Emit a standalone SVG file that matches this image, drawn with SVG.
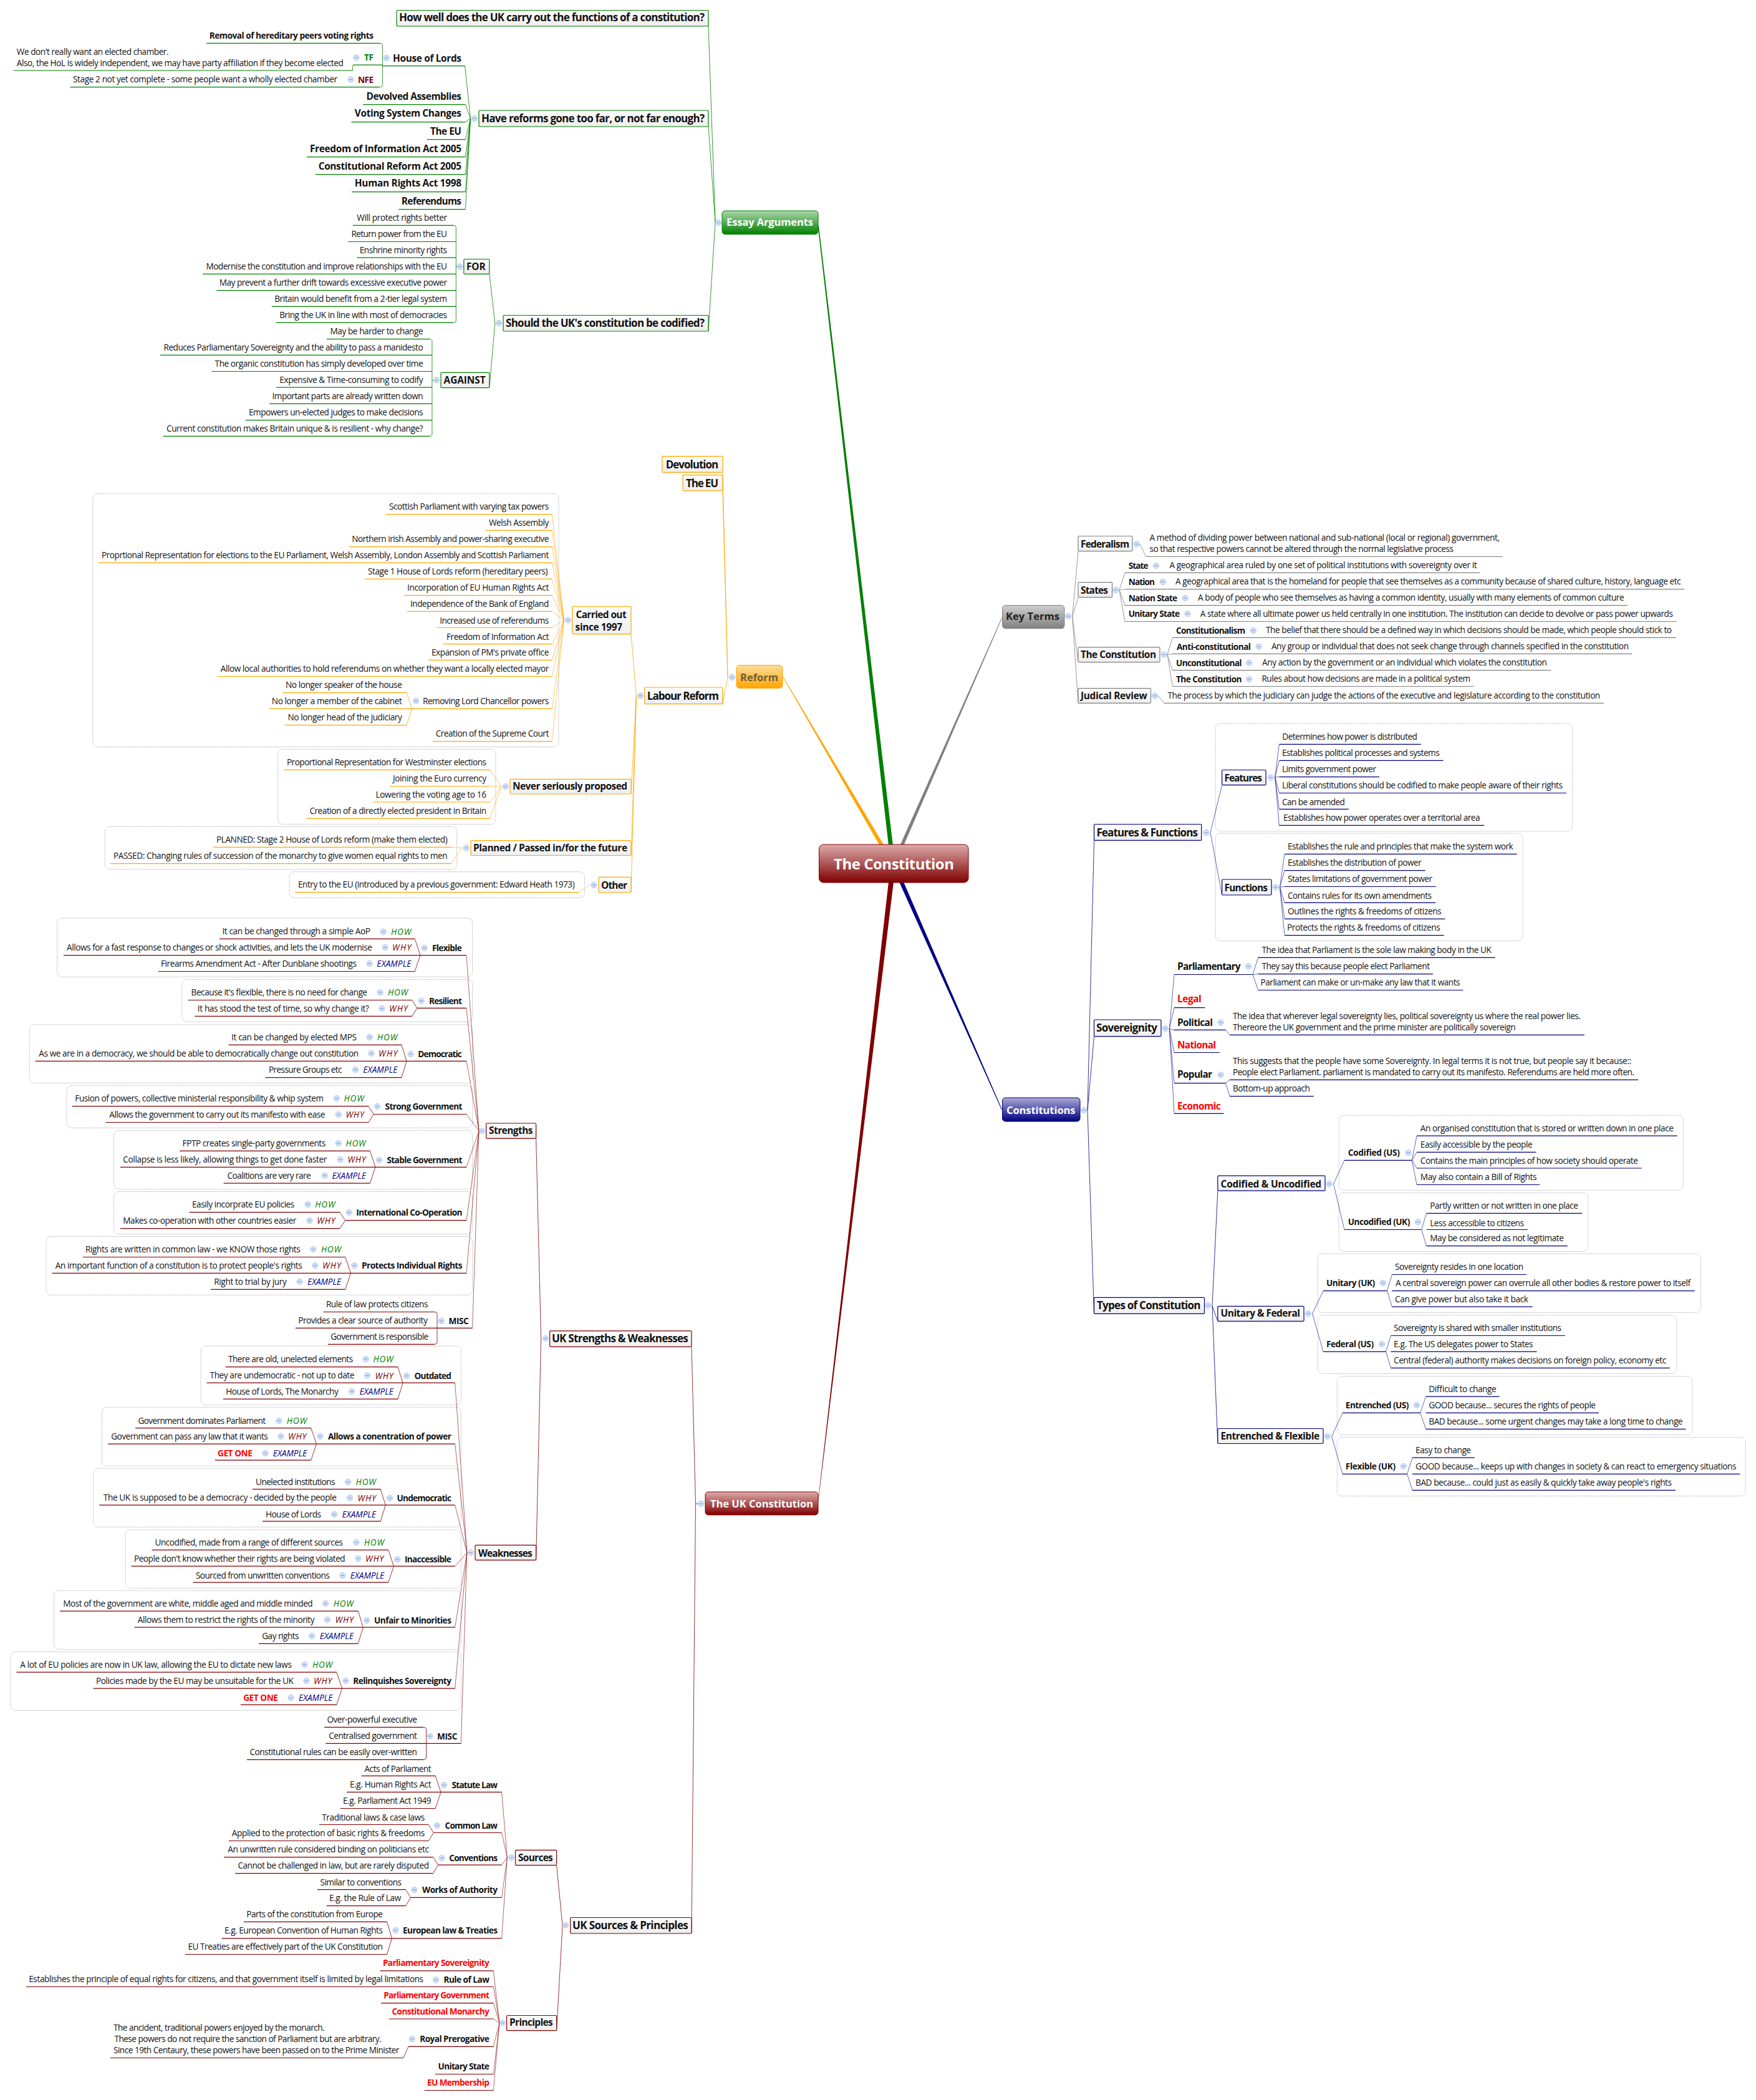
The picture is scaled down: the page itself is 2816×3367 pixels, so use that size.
<svg xmlns="http://www.w3.org/2000/svg" width="2816" height="3367" viewBox="0 0 2816 3367">
<style>
text{font-family:"Open Sans","Noto Sans","Liberation Sans",sans-serif;fill:#111}
.l{font-size:13.6px}
.b{font-size:13.6px;font-weight:700}
.m{font-size:15.4px;font-weight:700}
.h{font-size:17px;font-weight:700}
.t{font-size:16.5px;font-weight:700;fill:#fff}
.red{fill:#f00}
.how{font-size:13.6px;font-style:italic;fill:#008000}
.why{font-size:13.6px;font-style:italic;fill:#800000}
.ex{font-size:13.6px;font-style:italic;fill:#000080}
path{fill:none;stroke-width:1.2}
#connectors path{stroke-width:.8}
.g{stroke:#008000}.o{stroke:#ffa500}.r{stroke:#800000}.u{stroke:#000080}.k{stroke:#808080}
#connectors .th{stroke-width:.6}
rect.bx{fill:url(#bx);stroke-width:1.2;rx:1.5px}
rect.grp{fill:#fff;stroke:#aaa;stroke-width:1;stroke-dasharray:1 1;rx:8px}
.poly{stroke:none}
</style>
<defs>
<linearGradient id="bx" x1="0" y1="0" x2="0" y2="1"><stop offset="0" stop-color="#fdfdfd"/><stop offset="1" stop-color="#eeeeee"/></linearGradient>
<linearGradient id="gc" x1="0" y1="0" x2="0" y2="1"><stop offset="0" stop-color="#dcabab"/><stop offset="1" stop-color="#800000"/></linearGradient>
<linearGradient id="gg" x1="0" y1="0" x2="0" y2="1"><stop offset="0" stop-color="#abd6ab"/><stop offset="1" stop-color="#008000"/></linearGradient>
<linearGradient id="go" x1="0" y1="0" x2="0" y2="1"><stop offset="0" stop-color="#ffdc9a"/><stop offset="1" stop-color="#ffa500"/></linearGradient>
<linearGradient id="gk" x1="0" y1="0" x2="0" y2="1"><stop offset="0" stop-color="#cfcfcf"/><stop offset="1" stop-color="#808080"/></linearGradient>
<linearGradient id="gu" x1="0" y1="0" x2="0" y2="1"><stop offset="0" stop-color="#ababd6"/><stop offset="1" stop-color="#000080"/></linearGradient>
<g id="c"><circle r="4.5" fill="#d4e2fa" stroke="#a9c2ee" stroke-width="1"/><path d="M-2.5 0H2.5" stroke="#7f9bd0" stroke-width="1"/></g>
</defs>
<g id="boundaries">
<rect class="grp" x="148.9" y="791.3" width="747.1" height="406.2"/>
<rect class="grp" x="445.8" y="1201.3" width="349.1" height="120.2"/>
<rect class="grp" x="168" y="1325.4" width="564.7" height="68.4"/>
<rect class="grp" x="464" y="1397.7" width="473.5" height="41.6"/>
<rect class="grp" x="91.7" y="1472" width="665.9" height="94.4"/>
<rect class="grp" x="291.9" y="1570.4" width="465.7" height="67.9"/>
<rect class="grp" x="47" y="1642.8" width="710.6" height="93.7"/>
<rect class="grp" x="107" y="1740.5" width="650.6" height="67.9"/>
<rect class="grp" x="182.6" y="1812.4" width="575" height="94.2"/>
<rect class="grp" x="182.6" y="1910.6" width="575" height="67.9"/>
<rect class="grp" x="74" y="1982.5" width="683.6" height="93.8"/>
<rect class="grp" x="322" y="2158" width="417.3" height="94.3"/>
<rect class="grp" x="163.5" y="2256.2" width="575.8" height="94.1"/>
<rect class="grp" x="149.6" y="2354.3" width="589.7" height="94"/>
<rect class="grp" x="201" y="2452.7" width="538.3" height="93.7"/>
<rect class="grp" x="86.5" y="2550.3" width="652.8" height="94.1"/>
<rect class="grp" x="16.9" y="2648.3" width="722.4" height="94.1"/>
<rect class="grp" x="1949" y="1160" width="572.5" height="172.7"/>
<rect class="grp" x="1949" y="1336" width="493" height="172.6"/>
<rect class="grp" x="2147" y="1788.4" width="552.4" height="120"/>
<rect class="grp" x="2147" y="1912.6" width="399.6" height="93.8"/>
<rect class="grp" x="2113.3" y="2010.2" width="614.2" height="94.3"/>
<rect class="grp" x="2113.3" y="2108.7" width="575.5" height="93.8"/>
<rect class="grp" x="2144.3" y="2206.8" width="569.6" height="93.8"/>
<rect class="grp" x="2144.3" y="2304.4" width="654.7" height="94.3"/>
</g>
<g id="connectors">
<polygon class="poly" fill="#008000" points="1311.5,362 1313,362 1432,1356 1425,1356"/>
<polygon class="poly" fill="#ffa500" points="1255,1085 1256,1085 1418,1356 1411,1356"/>
<polygon class="poly" fill="#808080" points="1606.5,990 1607.5,990 1449,1356 1443,1356"/>
<polygon class="poly" fill="#000080" points="1607,1779 1606,1779 1442,1414 1449,1414"/>
<polygon class="poly" fill="#800000" points="1312,2405 1312.5,2405 1433,1414 1425,1414"/>
<path class="g" d="M1147 356L1136 42M1147 356L1136 203M1147 356L1136 531M1147 356H1154"/>
<path class="g" d="M754.5 190L745.5 105.6M754.5 190L746.4 167.6M754.5 190L746.4 195.6M754.5 190L746.4 223.6M754.5 190L746.4 251.6M754.5 190L746.4 279.6M754.5 190L746.4 307.6M754.5 190L746.4 335.6"/>
<path class="g" d="M609 69.3q4 0 4.4 3V136.6q0 3-4 3M566 104.2L565 113"/>
<path class="g" d="M793.8 518.4L784.8 439.4M793.8 518.4L784.8 621.7"/>
<path class="g" d="M727 361.3q4 0 4.3 3V514.4q0 3-4 3M731.3 427H737"/>
<path class="g" d="M689 543.6q4 0 3.9 3V696.3q0 3-4 3M692.9 609.7H698"/>
<path class="o" d="M1167 1086L1158.9 757.3M1167 1086L1158.9 786.9M1167 1086L1158.9 1128.6"/>
<path class="o" d="M1020.4 1115.5L1012 1016.6M1020.4 1115.5L1012 1273M1020.4 1115.5L1012 1371.5M1020.4 1115.5L1012 1431"/>
<path class="o th" d="M904.3 994.4L885.3 824.7M904.3 994.4L885.3 850.4M904.3 994.4L885.3 876.6M904.3 994.4L885.3 902.3M904.3 994.4L885.3 928.4M904.3 994.4L885.3 954.6M904.3 994.4L885.3 980.3M904.3 994.4L885.3 1006.5M904.3 994.4L885.3 1032.6M904.3 994.4L885.3 1058.3M904.3 994.4L885.3 1084.5M904.3 994.4L885.3 1136.4M904.3 994.4L885.3 1188.7"/>
<path class="o" d="M660.5 1136.4L652.2 1110.7M660.5 1136.4L652.2 1162.6"/>
<path class="o th" d="M804 1261L785.7 1234.3M804 1261L785.7 1260.5M804 1261L785.7 1286M804 1261L785.7 1312.3"/>
<path class="o th" d="M741 1359.4L723.6 1358.4M741 1359.4L723.6 1384.6"/>
<path class="o th" d="M945.8 1418.5L928.4 1430.6"/>
<path class="r" d="M1115.5 2411L1109 2159.3M1115.5 2411L1109 3100M1115.5 2411H1120"/>
<path class="r" d="M867.6 2146L859.6 1825.4M867.6 2146L859.6 2501.3"/>
<path class="r" d="M902 3086.8L892.6 2990.6M902 3086.8L892.6 3255.7"/>
<path class="r th" d="M768 1813.3L748 1531.6M768 1813.3L748 1616.4M768 1813.3L748 1701.3M768 1813.3L748 1786.5M768 1813.3L748 1871.3M768 1813.3L748 1956.6M768 1813.3L748 2041.4M768 1813.3L757.6 2129.4"/>
<path class="r" d="M674 1531.6L665.2 1505.3M674 1531.6L665.2 1557.5"/>
<path class="r" d="M668.9 1616.4L660.8 1603.5M668.9 1616.4L660.8 1629.4"/>
<path class="r" d="M652 1701.3L644 1675.4M652 1701.3L644 1727.6"/>
<path class="r" d="M599 1786.5L591 1773.6M599 1786.5L591 1799.5"/>
<path class="r" d="M602 1871.3L593.3 1845.4M602 1871.3L593.3 1897.2"/>
<path class="r" d="M553.7 1956.6L545 1943.7M553.7 1956.6L545 1969.6"/>
<path class="r" d="M562.5 2041.4L553.7 2015.5M562.5 2041.4L553.7 2067.3"/>
<path class="r" d="M697 2103.5q4 0 4 3V2152q0 3-4 3.3"/>
<path class="r th" d="M748.8 2489.5L729.7 2217.2M748.8 2489.5L729.7 2315.2M748.8 2489.5L729.7 2413.2M748.8 2489.5L729.7 2511.2M748.8 2489.5L729.7 2609.2M748.8 2489.5L729.7 2707.2M748.8 2489.5L739.3 2795.3"/>
<path class="r" d="M646 2217.2L638 2191.6M646 2217.2L638 2243.2"/>
<path class="r" d="M507.5 2315.2L498.7 2289.6M507.5 2315.2L498.7 2341.2"/>
<path class="r" d="M618.3 2413.2L610.2 2387.6M618.3 2413.2L610.2 2439.2"/>
<path class="r" d="M631.5 2511.2L622.7 2485.2M631.5 2511.2L622.7 2537.2"/>
<path class="r" d="M582.3 2609.2L574.3 2583.2M582.3 2609.2L574.3 2635.3"/>
<path class="r" d="M548.6 2707.2L539.8 2681.2M548.6 2707.2L539.8 2733.3"/>
<path class="r" d="M679.5 2769.3q4 0 4 3V2818q0 3-4 3.3"/>
<path class="r th" d="M813.3 2978.3L804.6 2873.4M813.3 2978.3L804.6 2938.5M813.3 2978.3L804.6 2990.2M813.3 2978.3L804.6 3042.3M813.3 2978.3L804.6 3107.8"/>
<path class="r" d="M707 2873.4L698.2 2847.4M707 2873.4L698.2 2899.5"/>
<path class="r" d="M695.3 2938.5L687.2 2925.5M695.3 2938.5L687.2 2951.5"/>
<path class="r" d="M702.6 2990.2L694.5 2977.6M702.6 2990.2L694.5 3003.6"/>
<path class="r" d="M658.6 3042.3L650.5 3029.7M658.6 3042.3L650.5 3055.7"/>
<path class="r" d="M628.5 3107.8L620.5 3081.4M628.5 3107.8L620.5 3133.5"/>
<path class="r th" d="M800.9 3243.4L791.3 3159.9M800.9 3243.4L791.3 3185.5M800.9 3243.4L791.3 3211.6M800.9 3243.4L791.3 3237M800.9 3243.4L791.3 3281.4M800.9 3243.4L791.3 3325.5M800.9 3243.4L791.3 3351.5"/>
<path class="r" d="M655 3281.4L646.9 3299.5"/>
<path class="k" d="M1719.7 988.5L1729 883.6M1719.7 988.5L1729 957.7M1719.7 988.5L1729 1061.7M1719.7 988.5L1729 1127.3"/>
<path class="k" d="M1828 872.4L1837.7 892.5"/>
<path class="k" d="M1795 946L1803.9 918.4M1795 946L1803.9 944.7M1795 946L1803.9 970.6M1795 946L1803.9 996.5"/>
<path class="k" d="M1872 1049.6L1880.3 1022.4M1872 1049.6L1880.3 1048.3M1872 1049.6L1880.3 1074.6M1872 1049.6L1880.3 1100.5"/>
<path class="k" d="M1857 1115.7L1866.7 1127.3"/>
<path class="u" d="M1744 1780L1754.5 1347.4M1744 1780L1754.5 1661.6M1744 1780L1754.5 2106.3"/>
<path class="u th" d="M1941 1335L1959.6 1258.6M1941 1335L1959.6 1435"/>
<path class="u th" d="M2044.7 1246L2051.4 1193.4M2044.7 1246L2051.4 1219.3M2044.7 1246L2051.4 1245.6M2044.7 1246L2051.4 1271.5M2044.7 1246L2051.4 1297.4M2044.7 1246L2051.4 1323.3"/>
<path class="u th" d="M2052.4 1422.4L2060 1369.3M2052.4 1422.4L2060 1395.6M2052.4 1422.4L2060 1421.5M2052.4 1422.4L2060 1447.4M2052.4 1422.4L2060 1473.3M2052.4 1422.4L2060 1499.6"/>
<path class="u th" d="M1875.4 1649.6L1883 1562.5M1875.4 1649.6L1883 1615.6M1875.4 1649.6L1883 1651.3M1875.4 1649.6L1883 1687.5M1875.4 1649.6L1883 1736.6M1875.4 1649.6L1883 1785.3"/>
<path class="u th" d="M2009 1562.5L2017.6 1535.3M2009 1562.5L2017.6 1561.6M2009 1562.5L2017.6 1587.5"/>
<path class="u th" d="M1965.4 1651.3L1972 1659.4"/>
<path class="u th" d="M1965.4 1736.6L1972 1731.3M1965.4 1736.6L1972 1757.6"/>
<path class="u" d="M1944 2093.7L1952.8 1909.2M1944 2093.7L1952.8 2118.4M1944 2093.7L1952.8 2314.5"/>
<path class="u th" d="M2138.5 1898.3L2155.9 1860.4M2138.5 1898.3L2155.9 1971.5"/>
<path class="u th" d="M2264.2 1860.4L2272 1821.2M2264.2 1860.4L2272 1847.3M2264.2 1860.4L2272 1873M2264.2 1860.4L2272 1899.5"/>
<path class="u th" d="M2279.7 1971.5L2287.4 1945.4M2279.7 1971.5L2287.4 1997.6"/>
<path class="u th" d="M2104.6 2106.2L2122 2069.6M2104.6 2106.2L2122 2167.2"/>
<path class="u th" d="M2224.5 2069.6L2232.3 2043.5M2224.5 2069.6L2232.3 2095.2"/>
<path class="u th" d="M2222.6 2167.2L2230.4 2141.5M2222.6 2167.2L2230.4 2193.3"/>
<path class="u th" d="M2135.6 2303L2153 2265.3M2135.6 2303L2153 2363.3"/>
<path class="u th" d="M2277.7 2265.3L2286.5 2239.2M2277.7 2265.3L2286.5 2291.4"/>
<path class="u th" d="M2256.5 2363.3L2265 2337.2M2256.5 2363.3L2265 2389.4"/>
</g>
<g id="central"><rect x="1313.5" y="1354" width="239.5" height="61" rx="7" fill="url(#gc)" stroke="#800000"/><text x="1337" y="1394" font-size="24" font-weight="700" style="fill:#fff" textLength="193">The Constitution</text></g>
<g id="essay"><rect x="1158" y="338" width="154" height="37.7" rx="5" fill="url(#gg)" stroke="#008000"/><text class="t" x="1165" y="362" textLength="139">Essay Arguments</text><use href="#c" x="1152" y="357"/></g>
<g id="reform"><rect x="1181" y="1066.6" width="74" height="36.8" rx="5" fill="url(#go)" stroke="#ffa500"/><text class="t" x="1187" y="1092" textLength="61" style="fill:#6b5a3a">Reform</text><use href="#c" x="1174" y="1086"/></g>
<g id="keyterms"><rect x="1607.5" y="970.6" width="99.5" height="37.1" rx="5" fill="url(#gk)" stroke="#808080"/><text class="t" x="1613" y="993.5" textLength="86" style="fill:#222">Key Terms</text><use href="#c" x="1713" y="988"/></g>
<g id="constitutions"><rect x="1607.5" y="1760" width="124.5" height="38" rx="5" fill="url(#gu)" stroke="#000080"/><text class="t" x="1614" y="1786" textLength="110.5">Constitutions</text><use href="#c" x="1738" y="1780"/></g>
<g id="ukconstitution"><rect x="1131" y="2392" width="181" height="37" rx="5" fill="url(#gc)" stroke="#800000"/><text class="t" x="1139" y="2417" textLength="165">The UK Constitution</text><use href="#c" x="1124" y="2411"/></g>

<g id="n1"><rect class="bx g" x="636" y="16.5" width="500" height="25.5"/><text class="h" x="640" y="34" textLength="490">How well does the UK carry out the functions of a constitution?</text></g>
<g id="n2"><rect class="bx g" x="768" y="177" width="368" height="26"/><text class="h" x="772" y="195.5" textLength="358">Have reforms gone too far, or not far enough?</text><use href="#c" x="761" y="190"/></g>
<g id="n3"><rect class="bx g" x="807" y="505.5" width="329" height="25.5"/><text class="h" x="811" y="524" textLength="319">Should the UK's constitution be codified?</text><use href="#c" x="800" y="518"/></g>
<g id="n4"><path class="g" d="M331 69.3H609"/><text class="b" x="335.7" y="62" textLength="263.3">Removal of hereditary peers voting rights</text></g>
<g id="n5"><path class="g" d="M566 104.2H613.4"/><text class="b" x="584" y="97" textLength="15" style="fill:#008000">TF</text><use href="#c" x="571.4" y="92.3"/></g>
<g id="n6"><path class="g" d="M21.4 113H566"/><text class="l" x="26.8" y="87.6" textLength="243.7">We don't really want an elected chamber.</text><text class="l" x="26.8" y="106" textLength="524">Also, the HoL is widely independent, we may have party affiliation if they become elected</text></g>
<g id="n7"><text class="b" x="574" y="132.6" textLength="25" style="fill:#800000">NFE</text><use href="#c" x="562.5" y="127.6"/></g>
<g id="n8"><path class="g" d="M112.5 139.6H609"/><text class="l" x="117" y="131.7" textLength="424">Stage 2 not yet complete - some people want a wholly elected chamber</text></g>
<g id="n9"><path class="g" d="M613.4 105.6H745.5"/><text class="m" x="630" y="98.5" textLength="110">House of Lords</text><use href="#c" x="619.6" y="93"/></g>
<g id="n10"><path class="g" d="M582 167.6H746.4"/><text class="m" x="587.5" y="160.3" textLength="152.5">Devolved Assemblies</text></g>
<g id="n11"><path class="g" d="M563.4 195.6H746.4"/><text class="m" x="568.8" y="187" textLength="171.2">Voting System Changes</text></g>
<g id="n12"><path class="g" d="M684.8 223.6H746.4"/><text class="m" x="690" y="216.3" textLength="50">The EU</text></g>
<g id="n13"><path class="g" d="M492 251.6H746.4"/><text class="m" x="497" y="244.3" textLength="243">Freedom of Information Act 2005</text></g>
<g id="n14"><path class="g" d="M506 279.6H746.4"/><text class="m" x="510.7" y="272.3" textLength="229.3">Constitutional Reform Act 2005</text></g>
<g id="n15"><path class="g" d="M564 307.6H746.4"/><text class="m" x="568.8" y="298.7" textLength="171.2">Human Rights Act 1998</text></g>
<g id="n16"><path class="g" d="M639 335.6H746.4"/><text class="m" x="643.8" y="328.3" textLength="96.2">Referendums</text></g>
<g id="n17"><rect class="bx g" x="743.8" y="415.5" width="41" height="23.9"/><text class="m" x="748" y="433" textLength="30.6">FOR</text><use href="#c" x="737.5" y="427.5"/></g>
<g id="n18"><path class="g" d="M566 361.3H727"/><text class="l" x="572.3" y="354" textLength="144.7">Will protect rights better</text></g>
<g id="n19"><path class="g" d="M558 387.5H731.3"/><text class="l" x="563.4" y="379.7" textLength="153.6">Return power from the EU</text></g>
<g id="n20"><path class="g" d="M572.3 413.2H731.3"/><text class="l" x="576.8" y="405.8" textLength="140.2">Enshrine minority rights</text></g>
<g id="n21"><path class="g" d="M325 439.4H731.3"/><text class="l" x="330.4" y="432" textLength="386.6">Modernise the constitution and improve relationships with the EU</text></g>
<g id="n22"><path class="g" d="M347.3 465.6H731.3"/><text class="l" x="351.8" y="457.7" textLength="365.2">May prevent a further drift towards excessive executive power</text></g>
<g id="n23"><path class="g" d="M435.7 491.3H731.3"/><text class="l" x="440.2" y="483.9" textLength="276.8">Britain would benefit from a 2-tier legal system</text></g>
<g id="n24"><path class="g" d="M442.9 517.4H727"/><text class="l" x="448.2" y="509.6" textLength="268.8">Bring the UK in line with most of democracies</text></g>
<g id="n25"><rect class="bx g" x="707" y="597.3" width="77.8" height="24.4"/><text class="m" x="711.6" y="615" textLength="67">AGAINST</text><use href="#c" x="700" y="609.5"/></g>
<g id="n26"><path class="g" d="M524 543.6H689"/><text class="l" x="529.5" y="535.8" textLength="149.1">May be harder to change</text></g>
<g id="n27"><path class="g" d="M257 569.3H692.9"/><text class="l" x="262.5" y="562" textLength="416.1">Reduces Parliamentary Sovereignty and the ability to pass a manidesto</text></g>
<g id="n28"><path class="g" d="M339.3 595.5H692.9"/><text class="l" x="344.6" y="587.6" textLength="334">The organic constitution has simply developed over time</text></g>
<g id="n29"><path class="g" d="M442.9 621.2H692.9"/><text class="l" x="448.2" y="613.8" textLength="230.4">Expensive &amp; Time-consuming to codify</text></g>
<g id="n30"><path class="g" d="M432 647.4H692.9"/><text class="l" x="436.6" y="640" textLength="242">Important parts are already written down</text></g>
<g id="n31"><path class="g" d="M393.8 673.6H692.9"/><text class="l" x="399" y="665.7" textLength="279.6">Empowers un-elected judges to make decisions</text></g>
<g id="n32"><path class="g" d="M261.6 699.3H689"/><text class="l" x="267" y="691.9" textLength="411.6">Current constitution makes Britain unique &amp; is resilient - why change?</text></g>

<g id="n33"><rect class="bx o" x="1061.9" y="731.6" width="97" height="25.7"/><text class="h" x="1067.7" y="750.7" textLength="84.5">Devolution</text></g>
<g id="n34"><rect class="bx o" x="1095" y="761.7" width="63.9" height="25.2"/><text class="h" x="1100" y="780.8" textLength="52">The EU</text></g>
<g id="n35"><rect class="bx o" x="1033.7" y="1102" width="125.2" height="26.6"/><text class="h" x="1037.8" y="1122" textLength="115.2">Labour Reform</text><use href="#c" x="1027" y="1115.5"/></g>
<g id="n36"><rect class="bx o" x="917.6" y="972.5" width="94.4" height="44.1"/><text class="m" x="923.4" y="990.5" textLength="81.2">Carried out</text><text class="m" x="922.6" y="1010.5" textLength="75.4">since 1997</text><use href="#c" x="911" y="994.4"/></g>
<g id="n37"><path class="o" d="M619 824.7H885.3"/><text class="l" x="624" y="817" textLength="256.3">Scottish Parliament with varying tax powers</text></g>
<g id="n38"><path class="o" d="M778.3 850.4H885.3"/><text class="l" x="784" y="842.8" textLength="96.3">Welsh Assembly</text></g>
<g id="n39"><path class="o" d="M559.4 876.6H885.3"/><text class="l" x="564.3" y="869" textLength="316">Northern irish Assembly and power-sharing executive</text></g>
<g id="n40"><path class="o" d="M158 902.3H885.3"/><text class="l" x="163" y="894.7" textLength="717.3">Proprtional Representation for elections to the EU Parliament, Welsh Assembly, London Assembly and Scottish Parliament</text></g>
<g id="n41"><path class="o" d="M585 928.4H885.3"/><text class="l" x="590" y="920.8" textLength="288.6">Stage 1 House of Lords reform (hereditary peers)</text></g>
<g id="n42"><path class="o" d="M648 954.6H885.3"/><text class="l" x="653" y="947" textLength="227.3">Incorporation of EU Human Rights Act</text></g>
<g id="n43"><path class="o" d="M653 980.3H885.3"/><text class="l" x="658" y="972.7" textLength="222.3">Independence of the Bank of England</text></g>
<g id="n44"><path class="o" d="M700.3 1006.5H885.3"/><text class="l" x="705.3" y="1000" textLength="175">Increased use of referendums</text></g>
<g id="n45"><path class="o" d="M711 1032.6H885.3"/><text class="l" x="716" y="1026" textLength="164.3">Freedom of Information Act</text></g>
<g id="n46"><path class="o" d="M687 1058.3H885.3"/><text class="l" x="692" y="1050.7" textLength="188.3">Expansion of PM's private office</text></g>
<g id="n47"><path class="o" d="M348.8 1084.5H885.3"/><text class="l" x="353.7" y="1077" textLength="526.6">Allow local authorities to hold referendums on whether they want a locally elected mayor</text></g>
<g id="n48"><path class="o" d="M660.5 1136.4H885.3"/><text class="l" x="678" y="1128.8" textLength="202.3">Removing Lord Chancellor powers</text><use href="#c" x="667" y="1123.8"/></g>
<g id="n49"><path class="o" d="M453.2 1110.7H652.2"/><text class="l" x="458" y="1103" textLength="186.8">No longer speaker of the house</text></g>
<g id="n50"><path class="o" d="M431.7 1136.4H660.5"/><text class="l" x="435.8" y="1128.8" textLength="209">No longer a member of the cabinet</text></g>
<g id="n51"><path class="o" d="M456.6 1162.6H652.2"/><text class="l" x="461.5" y="1155" textLength="183.3">No longer head of the judiciary</text></g>
<g id="n52"><path class="o" d="M693.7 1188.7H885.3"/><text class="l" x="698.7" y="1181" textLength="181.6">Creation of the Supreme Court</text></g>
<g id="n53"><rect class="bx o" x="818" y="1249.3" width="194" height="23.7"/><text class="m" x="822" y="1266" textLength="184">Never seriously proposed</text><use href="#c" x="810.6" y="1261"/></g>
<g id="n54"><path class="o" d="M454.9 1234.3H785.7"/><text class="l" x="459.9" y="1227" textLength="320.1">Proportional Representation for Westminster elections</text></g>
<g id="n55"><path class="o" d="M624.9 1260.5H785.7"/><text class="l" x="629.9" y="1252.9" textLength="150.1">Joining the Euro currency</text></g>
<g id="n56"><path class="o" d="M598.3 1286H785.7"/><text class="l" x="602.5" y="1279" textLength="177.5">Lowering the voting age to 16</text></g>
<g id="n57"><path class="o" d="M491.4 1312.3H785.7"/><text class="l" x="496.4" y="1304.7" textLength="283.6">Creation of a directly elected president in Britain</text></g>
<g id="n58"><rect class="bx o" x="755" y="1347.7" width="257" height="23.8"/><text class="m" x="759" y="1364.9" textLength="247">Planned / Passed in/for the future</text><use href="#c" x="747.6" y="1359.4"/></g>
<g id="n59"><path class="o" d="M342 1358.4H723.6"/><text class="l" x="347" y="1350.8" textLength="370.7">PLANNED: Stage 2 House of Lords reform (make them elected)</text></g>
<g id="n60"><path class="o" d="M177 1384.6H723.6"/><text class="l" x="182" y="1377" textLength="535.7">PASSED: Changing rules of succession of the monarchy to give women equal rights to men</text></g>
<g id="n61"><rect class="bx o" x="960" y="1406.4" width="52" height="24.6"/><text class="m" x="964" y="1424.5" textLength="42">Other</text><use href="#c" x="952.4" y="1419"/></g>
<g id="n62"><path class="o" d="M473 1430.6H928.4"/><text class="l" x="478" y="1423" textLength="443.7">Entry to the EU (introduced by a previous government: Edward Heath 1973)</text></g>

<g id="n63"><rect class="bx r" x="881.6" y="2133.8" width="227.4" height="25.5"/><text class="h" x="885" y="2152" textLength="218.8">UK Strengths &amp; Weaknesses</text><use href="#c" x="875" y="2146"/></g>
<g id="n64"><rect class="bx r" x="779.6" y="1801" width="80" height="24.4"/><text class="m" x="784" y="1818.4" textLength="70.4">Strengths</text><use href="#c" x="773" y="1813.3"/></g>
<g id="n65"><rect class="bx r" x="762" y="2477.4" width="97.6" height="23.9"/><text class="m" x="767" y="2495.9" textLength="86.7">Weaknesses</text><use href="#c" x="754.7" y="2489.5"/></g>
<g id="n66"><rect class="bx r" x="914.6" y="3074.5" width="194.4" height="25.5"/><text class="h" x="918" y="3092.6" textLength="185.8">UK Sources &amp; Principles</text><use href="#c" x="907" y="3086.8"/></g>

<g id="n67"><path class="r" d="M674 1531.6H748"/><text class="b" x="693" y="1525" textLength="47.8">Flexible</text><use href="#c" x="680.6" y="1520"/></g>
<g id="n68"><path class="r" d="M352 1505.3H665.2"/><text class="l" x="356.4" y="1497.8" textLength="237.6">It can be changed through a simple AoP</text><use href="#c" x="614.6" y="1494"/><text class="how" x="627" y="1499" textLength="32.3">HOW</text></g>
<g id="n69"><path class="r" d="M102 1531.6H674"/><text class="l" x="107" y="1523.7" textLength="490">Allows for a fast response to changes or shock activities, and lets the UK modernise</text><use href="#c" x="617.5" y="1519"/><text class="why" x="629" y="1524" textLength="30.3">WHY</text></g>
<g id="n70"><path class="r" d="M253.8 1557.5H665.2"/><text class="l" x="258" y="1550" textLength="314">Firearms Amendment Act - After Dunblane shootings</text><use href="#c" x="592.6" y="1545"/><text class="ex" x="604.3" y="1550" textLength="55">EXAMPLE</text></g>

<g id="n71"><path class="r" d="M668.9 1616.4H748"/><text class="b" x="688" y="1609.8" textLength="52.8">Resilient</text><use href="#c" x="675.5" y="1604.8"/></g>
<g id="n72"><path class="r" d="M301.4 1603.5H660.8"/><text class="l" x="306.6" y="1596" textLength="282.4">Because it's flexible, there is no need for change</text><use href="#c" x="609.5" y="1591"/><text class="how" x="622" y="1596" textLength="32">HOW</text></g>
<g id="n73"><path class="r" d="M312.4 1629.4H660.8"/><text class="l" x="316.8" y="1621.9" textLength="275.1">It has stood the test of time, so why change it?</text><use href="#c" x="612.4" y="1617"/><text class="why" x="624" y="1622" textLength="30">WHY</text></g>

<g id="n74"><path class="r" d="M652 1701.3H748"/><text class="b" x="670.3" y="1695" textLength="70.5">Democratic</text><use href="#c" x="658.6" y="1690"/></g>
<g id="n75"><path class="r" d="M366.7 1675.4H644"/><text class="l" x="371" y="1667.9" textLength="201">It can be changed by elected MPS</text><use href="#c" x="592.6" y="1663"/><text class="how" x="605" y="1668" textLength="32.3">HOW</text></g>
<g id="n76"><path class="r" d="M56.5 1701.3H652"/><text class="l" x="62.3" y="1693.8" textLength="512.7">As we are in a democracy, we should be able to democratically change out constitution</text><use href="#c" x="595.5" y="1689"/><text class="why" x="607" y="1694" textLength="30.3">WHY</text></g>
<g id="n77"><path class="r" d="M425.4 1727.6H644"/><text class="l" x="431" y="1720" textLength="117.6">Pressure Groups etc</text><use href="#c" x="569.9" y="1715"/><text class="ex" x="582.3" y="1720" textLength="55">EXAMPLE</text></g>

<g id="n78"><path class="r" d="M599 1786.5H748"/><text class="b" x="617.5" y="1779" textLength="124">Strong Government</text><use href="#c" x="605" y="1774"/></g>
<g id="n79"><path class="r" d="M115.9 1773.6H591"/><text class="l" x="120.3" y="1766" textLength="398.7">Fusion of powers, collective ministerial responsibility &amp; whip system</text><use href="#c" x="539.8" y="1761"/><text class="how" x="551.5" y="1766" textLength="32.3">HOW</text></g>
<g id="n80"><path class="r" d="M169.4 1799.5H591"/><text class="l" x="175.3" y="1792" textLength="346.1">Allows the government to carry out its manifesto with ease</text><use href="#c" x="542.7" y="1787"/><text class="why" x="554.4" y="1792" textLength="29.4">WHY</text></g>

<g id="n81"><path class="r" d="M602 1871.3H748"/><text class="b" x="620.5" y="1865" textLength="121">Stable Government</text><use href="#c" x="608" y="1860"/></g>
<g id="n82"><path class="r" d="M288.2 1845.4H593.3"/><text class="l" x="292.6" y="1838" textLength="229.6">FPTP creates single-party governments</text><use href="#c" x="542.7" y="1833"/><text class="how" x="554.4" y="1838" textLength="32.3">HOW</text></g>
<g id="n83"><path class="r" d="M192.9 1871.3H602"/><text class="l" x="197.3" y="1863.8" textLength="327.1">Collapse is less likely, allowing things to get done faster</text><use href="#c" x="545.7" y="1859"/><text class="why" x="557.4" y="1864" textLength="29.3">WHY</text></g>
<g id="n84"><path class="r" d="M358.6 1897.2H593.3"/><text class="l" x="364.5" y="1889.7" textLength="134.2">Coalitions are very rare</text><use href="#c" x="520.7" y="1885"/><text class="ex" x="532.5" y="1890" textLength="54.2">EXAMPLE</text></g>

<g id="n85"><path class="r" d="M553.7 1956.6H748"/><text class="b" x="571.3" y="1949" textLength="170.2">International Co-Operation</text><use href="#c" x="559.6" y="1944"/></g>
<g id="n86"><path class="r" d="M303.6 1943.7H545"/><text class="l" x="308" y="1935.7" textLength="164.3">Easily incorprate EU policies</text><use href="#c" x="493.6" y="1931"/><text class="how" x="505.3" y="1936" textLength="32.3">HOW</text></g>
<g id="n87"><path class="r" d="M192.9 1969.6H545"/><text class="l" x="197.3" y="1961.6" textLength="278">Makes co-operation with other countries easier</text><use href="#c" x="496.5" y="1957"/><text class="why" x="508.3" y="1962" textLength="29.3">WHY</text></g>

<g id="n88"><path class="r" d="M562.5 2041.4H748"/><text class="b" x="580" y="2034" textLength="161.5">Protects Individual Rights</text><use href="#c" x="568.4" y="2029"/></g>
<g id="n89"><path class="r" d="M132.7 2015.5H553.7"/><text class="l" x="137" y="2008" textLength="344.8">Rights are written in common law - we KNOW those rights</text><use href="#c" x="502.4" y="2003"/><text class="how" x="514.9" y="2008" textLength="32.1">HOW</text></g>
<g id="n90"><path class="r" d="M83.6 2041.4H562.5"/><text class="l" x="88.7" y="2034" textLength="396.1">An important function of a constitution is to protect people's rights</text><use href="#c" x="505.3" y="2029"/><text class="why" x="517" y="2034" textLength="30">WHY</text></g>
<g id="n91"><path class="r" d="M338 2067.3H553.7"/><text class="l" x="343.2" y="2059.8" textLength="116.6">Right to trial by jury</text><use href="#c" x="480.4" y="2055"/><text class="ex" x="492.9" y="2060" textLength="54.1">EXAMPLE</text></g>

<g id="n92"><path class="r" d="M701 2129.4H757.6"/><text class="b" x="719.5" y="2122.8" textLength="32.2">MISC</text><use href="#c" x="707.7" y="2118"/></g>
<g id="n93"><path class="r" d="M518.5 2103.5H697"/><text class="l" x="522.9" y="2096" textLength="163.6">Rule of law protects citizens</text></g>
<g id="n94"><path class="r" d="M473.8 2129.4H701"/><text class="l" x="478.2" y="2121.9" textLength="207.5">Provides a clear source of authority</text></g>
<g id="n95"><path class="r" d="M525.9 2155.3H697"/><text class="l" x="530.2" y="2147.8" textLength="157">Government is responsible</text></g>

<g id="n96"><path class="r" d="M646 2217.2H729.7"/><text class="b" x="664.5" y="2211" textLength="59.4">Outdated</text><use href="#c" x="652" y="2206"/></g>
<g id="n97"><path class="r" d="M361.6 2191.6H638"/><text class="l" x="366" y="2184" textLength="200.2">There are old, unelected elements</text><use href="#c" x="586.7" y="2179"/><text class="how" x="598.5" y="2184" textLength="32.2">HOW</text></g>
<g id="n98"><path class="r" d="M331.5 2217.2H646"/><text class="l" x="336.6" y="2209.6" textLength="231.8">They are undemocratic - not up to date</text><use href="#c" x="589" y="2205.5"/><text class="why" x="601.4" y="2210.5" textLength="29.3">WHY</text></g>
<g id="n99"><path class="r" d="M357.9 2243.2H638"/><text class="l" x="362.3" y="2235.7" textLength="180.4">House of Lords, The Monarchy</text><use href="#c" x="564" y="2231"/><text class="ex" x="576.5" y="2236" textLength="54.2">EXAMPLE</text></g>

<g id="n100"><path class="r" d="M507.5 2315.2H729.7"/><text class="b" x="525.9" y="2308" textLength="198">Allows a conentration of power</text><use href="#c" x="513.4" y="2303"/></g>
<g id="n101"><path class="r" d="M217 2289.6H498.7"/><text class="l" x="221.5" y="2283.4" textLength="204.5">Government dominates Parliament</text><use href="#c" x="447.4" y="2278"/><text class="how" x="459.8" y="2283" textLength="32.2">HOW</text></g>
<g id="n102"><path class="r" d="M173 2315.2H507.5"/><text class="l" x="178.2" y="2308" textLength="251.6">Government can pass any law that it wants</text><use href="#c" x="450.3" y="2303"/><text class="why" x="462" y="2308" textLength="29.4">WHY</text></g>
<g id="n103"><path class="r" d="M344.7 2341.2H498.7"/><text class="b red" x="349" y="2335" textLength="55.8">GET ONE</text><use href="#c" x="425.4" y="2330"/><text class="ex" x="437.8" y="2335" textLength="54.2">EXAMPLE</text></g>

<g id="n104"><path class="r" d="M618.3 2413.2H729.7"/><text class="b" x="636.6" y="2407" textLength="87.3">Undemocratic</text><use href="#c" x="624.9" y="2402"/></g>
<g id="n105"><path class="r" d="M404.8 2387.6H610.2"/><text class="l" x="410" y="2381" textLength="127.6">Unelected institutions</text><use href="#c" x="558" y="2376"/><text class="how" x="570.6" y="2381" textLength="32.3">HOW</text></g>
<g id="n106"><path class="r" d="M159.2 2413.2H618.3"/><text class="l" x="165.8" y="2406" textLength="374">The UK is supposed to be a democracy - decided by the people</text><use href="#c" x="561" y="2401.5"/><text class="why" x="573.5" y="2406.5" textLength="29.4">WHY</text></g>
<g id="n107"><path class="r" d="M421 2439.2H610.2"/><text class="l" x="426" y="2433" textLength="88.9">House of Lords</text><use href="#c" x="536" y="2428"/><text class="ex" x="548.6" y="2433" textLength="54.3">EXAMPLE</text></g>

<g id="n108"><path class="r" d="M631.5 2511.2H729.7"/><text class="b" x="649" y="2505" textLength="74.9">Inaccessible</text><use href="#c" x="637.3" y="2500"/></g>
<g id="n109"><path class="r" d="M243.5 2485.2H622.7"/><text class="l" x="248.6" y="2478" textLength="301.4">Uncodified, made from a range of different sources</text><use href="#c" x="571.3" y="2473"/><text class="how" x="583.8" y="2478" textLength="32.2">HOW</text></g>
<g id="n110"><path class="r" d="M210.5 2511.2H631.5"/><text class="l" x="214.9" y="2504" textLength="338.8">People don't know whether their rights are being violated</text><use href="#c" x="574.3" y="2499"/><text class="why" x="586" y="2504" textLength="29.3">WHY</text></g>
<g id="n111"><path class="r" d="M309.5 2537.2H622.7"/><text class="l" x="313.9" y="2531.4" textLength="214.9">Sourced from unwritten conventions</text><use href="#c" x="549.3" y="2526"/><text class="ex" x="561.8" y="2531" textLength="54.2">EXAMPLE</text></g>

<g id="n112"><path class="r" d="M582.3 2609.2H729.7"/><text class="b" x="600" y="2603" textLength="123.9">Unfair to Minorities</text><use href="#c" x="588.2" y="2598"/></g>
<g id="n113"><path class="r" d="M96 2583.2H574.3"/><text class="l" x="101.2" y="2575.6" textLength="400.5">Most of the government are white, middle aged and middle minded</text><use href="#c" x="522.2" y="2571"/><text class="how" x="534.7" y="2576" textLength="32.2">HOW</text></g>
<g id="n114"><path class="r" d="M215.6 2609.2H582.3"/><text class="l" x="220.8" y="2601.7" textLength="283.8">Allows them to restrict the rights of the minority</text><use href="#c" x="525" y="2597"/><text class="why" x="537.6" y="2602" textLength="29.3">WHY</text></g>
<g id="n115"><path class="r" d="M415 2635.3H574.3"/><text class="l" x="420.2" y="2628" textLength="59.4">Gay rights</text><use href="#c" x="500.2" y="2623"/><text class="ex" x="512.7" y="2628" textLength="54.2">EXAMPLE</text></g>

<g id="n116"><path class="r" d="M548.6 2707.2H729.7"/><text class="b" x="566.2" y="2700" textLength="157.7">Relinquishes Sovereignty</text><use href="#c" x="554.5" y="2695"/></g>
<g id="n117"><path class="r" d="M26.4 2681.2H539.8"/><text class="l" x="32.3" y="2674" textLength="435.6">A lot of EU policies are now in UK law, allowing the EU to dictate new laws</text><use href="#c" x="488.4" y="2669"/><text class="how" x="500.9" y="2674" textLength="32.3">HOW</text></g>
<g id="n118"><path class="r" d="M149.6 2707.2H548.6"/><text class="l" x="154" y="2700" textLength="316.8">Policies made by the EU may be unsuitable for the UK</text><use href="#c" x="491.4" y="2695"/><text class="why" x="503" y="2700" textLength="29.4">WHY</text></g>
<g id="n119"><path class="r" d="M385.8 2733.3H539.8"/><text class="b red" x="390.2" y="2727" textLength="55.7">GET ONE</text><use href="#c" x="466.4" y="2722"/><text class="ex" x="478.9" y="2727" textLength="54.3">EXAMPLE</text></g>

<g id="n120"><path class="r" d="M683.5 2795.3H739.3"/><text class="b" x="701" y="2788.6" textLength="32.4">MISC</text><use href="#c" x="689.4" y="2783.6"/></g>
<g id="n121"><path class="r" d="M520 2769.3H679.5"/><text class="l" x="524.4" y="2761.7" textLength="144.5">Over-powerful executive</text></g>
<g id="n122"><path class="r" d="M522.2 2795.3H683.5"/><text class="l" x="527.3" y="2787.7" textLength="141.6">Centralised government</text></g>
<g id="n123"><path class="r" d="M396 2821.3H679.5"/><text class="l" x="400.4" y="2813.7" textLength="268.5">Constitutional rules can be easily over-written</text></g>

<g id="n124"><rect class="bx r" x="826.5" y="2966.4" width="66.1" height="24.2"/><text class="m" x="831" y="2984.3" textLength="55.7">Sources</text><use href="#c" x="820" y="2978.3"/></g>
<g id="n125"><rect class="bx r" x="812.6" y="3231.5" width="80" height="24.2"/><text class="m" x="817" y="3248" textLength="69.7">Principles</text><use href="#c" x="806" y="3243.4"/></g>
<g id="n126"><path class="r" d="M707 2873.4H804.6"/><text class="b" x="724.6" y="2867" textLength="73.4">Statute Law</text><use href="#c" x="712" y="2862"/></g>
<g id="n127"><path class="r" d="M579.4 2847.4H698.2"/><text class="l" x="584.5" y="2841" textLength="107.1">Acts of Parliament</text></g>
<g id="n128"><path class="r" d="M555.9 2873.4H707"/><text class="l" x="561" y="2865.8" textLength="130.6">E.g. Human Rights Act</text></g>
<g id="n129"><path class="r" d="M545.7 2899.5H698.2"/><text class="l" x="550" y="2891.8" textLength="141.6">E.g. Parliament Act 1949</text></g>
<g id="n130"><path class="r" d="M695.3 2938.5H804.6"/><text class="b" x="713.6" y="2932" textLength="84.4">Common Law</text><use href="#c" x="701" y="2927"/></g>
<g id="n131"><path class="r" d="M511.9 2925.5H687.2"/><text class="l" x="516.3" y="2919" textLength="165">Traditional laws &amp; case laws</text></g>
<g id="n132"><path class="r" d="M366.7 2951.5H687.2"/><text class="l" x="371.8" y="2943.9" textLength="309.5">Applied to the protection of basic rights &amp; freedoms</text></g>
<g id="n133"><path class="r" d="M702.6 2990.2H804.6"/><text class="b" x="720.2" y="2984" textLength="77.8">Conventions</text><use href="#c" x="708.5" y="2979"/></g>
<g id="n134"><path class="r" d="M359.4 2977.6H694.5"/><text class="l" x="365.2" y="2969.9" textLength="322.8">An unwritten rule considered binding on politicians etc</text></g>
<g id="n135"><path class="r" d="M377 3003.6H694.5"/><text class="l" x="381.4" y="2996" textLength="306.6">Cannot be challenged in law, but are rarely disputed</text></g>
<g id="n136"><path class="r" d="M658.6 3042.3H804.6"/><text class="b" x="677" y="3035" textLength="121">Works of Authority</text><use href="#c" x="664.5" y="3030"/></g>
<g id="n137"><path class="r" d="M509 3029.7H650.5"/><text class="l" x="513.4" y="3023.4" textLength="130.6">Similar to conventions</text></g>
<g id="n138"><path class="r" d="M523.7 3055.7H650.5"/><text class="l" x="528" y="3048" textLength="115.2">E.g. the Rule of Law</text></g>
<g id="n139"><path class="r" d="M628.5 3107.8H804.6"/><text class="b" x="646" y="3100" textLength="152">European law &amp; Treaties</text><use href="#c" x="634.4" y="3095"/></g>
<g id="n140"><path class="r" d="M391 3081.4H620.5"/><text class="l" x="395.3" y="3074" textLength="218.6">Parts of the constitution from Europe</text></g>
<g id="n141"><path class="r" d="M355.7 3107.8H628.5"/><text class="l" x="360" y="3100" textLength="253.9">E.g. European Convention of Human Rights</text></g>
<g id="n142"><path class="r" d="M297 3133.5H620.5"/><text class="l" x="301.4" y="3126" textLength="312.5">EU Treaties are effectively part of the UK Constitution</text></g>
<g id="n143"><path class="r" d="M609.5 3159.9H791.3"/><text class="b red" x="613.9" y="3152.2" textLength="170.9">Parliamentary Sovereignity</text></g>
<g id="n144"><path class="r" d="M693 3185.5H791.3"/><text class="b" x="711.4" y="3179.3" textLength="73.4">Rule of Law</text><use href="#c" x="699" y="3174.3"/></g>
<g id="n145"><path class="r" d="M41.8 3185.5H693"/><text class="l" x="46.2" y="3177.5" textLength="632.9">Establishes the principle of equal rights for citizens, and that government itself is limited by legal limitations</text></g>
<g id="n146"><path class="r" d="M611 3211.6H791.3"/><text class="b red" x="615.3" y="3204" textLength="169.5">Parliamentary Government</text></g>
<g id="n147"><path class="r" d="M624 3237H791.3"/><text class="b red" x="628.5" y="3230" textLength="156.3">Constitutional Monarchy</text></g>
<g id="n148"><path class="r" d="M655 3281.4H791.3"/><text class="b" x="673.3" y="3274" textLength="111.5">Royal Prerogative</text><use href="#c" x="660.8" y="3269"/></g>
<g id="n149"><path class="r" d="M176.8 3299.5H646.9"/><text class="l" x="181.9" y="3256" textLength="338.8">The ancident, traditional powers enjoyed by the monarch.</text><text class="l" x="183.4" y="3274" textLength="428.3">These powers do not require the sanction of Parliament but are arbitrary.</text><text class="l" x="181.9" y="3292" textLength="458.4">Since 19th Centaury, these powers have been passed on to the Prime Minister</text></g>
<g id="n150"><path class="r" d="M697.5 3325.5H791.3"/><text class="b" x="702.6" y="3317.8" textLength="82.2">Unitary State</text></g>
<g id="n151"><path class="r" d="M680.6 3351.5H791.3"/><text class="b red" x="685" y="3343.9" textLength="99.8">EU Membership</text></g>

<g id="n152"><rect class="bx k" x="1729" y="859.5" width="87" height="24.1"/><text class="m" x="1733" y="878" textLength="78">Federalism</text><use href="#c" x="1823" y="872.4"/></g>
<g id="n153"><path class="k" d="M1837.7 892.5H2410"/><text class="l" x="1843.5" y="866.7" textLength="561.5">A method of dividing power between national and sub-national (local or regional) government,</text><text class="l" x="1843.5" y="885" textLength="487.5">so that respective powers cannot be altered through the normal legislative process</text></g>
<g id="n154"><rect class="bx k" x="1729" y="933.6" width="54.5" height="24.1"/><text class="m" x="1733" y="951.5" textLength="44">States</text><use href="#c" x="1789" y="946"/></g>
<g id="n155"><path class="k" d="M1803.9 918.4H2373.5"/><text class="b" x="1809.7" y="911.8" textLength="31.9">State</text><use href="#c" x="1854" y="907"/><text class="l" x="1875.4" y="911" textLength="493.3">A geographical area ruled by one set of political institutions with sovereignty over it</text></g>
<g id="n156"><path class="k" d="M1803.9 944.7H2701"/><text class="b" x="1809.7" y="938" textLength="42.3">Nation</text><use href="#c" x="1864.8" y="933"/><text class="l" x="1885" y="937" textLength="810.6">A geographical area that is the homeland for people that see themselves as a community because of shared culture, history, language etc</text></g>
<g id="n157"><path class="k" d="M1803.9 970.6H2610"/><text class="b" x="1809.7" y="964" textLength="78.3">Nation State</text><use href="#c" x="1900.6" y="959"/><text class="l" x="1921" y="963" textLength="683.6">A body of people who see themselves as having a common identity, usually with many elements of common culture</text></g>
<g id="n158"><path class="k" d="M1803.9 996.5H2688.8"/><text class="b" x="1809.7" y="988.6" textLength="82.3">Unitary State</text><use href="#c" x="1904.4" y="984"/><text class="l" x="1924.7" y="988.6" textLength="758.3">A state where all ultimate power us held centrally in one institution. The institution can decide to devolve or pass power upwards</text></g>
<g id="n159"><rect class="bx k" x="1729" y="1037.6" width="131" height="24.1"/><text class="m" x="1733" y="1055" textLength="121">The Constitution</text><use href="#c" x="1866.7" y="1049.6"/></g>
<g id="n160"><path class="k" d="M1880.3 1022.4H2687.8"/><text class="b" x="1886" y="1016" textLength="111">Constitutionalism</text><use href="#c" x="2009.9" y="1011"/><text class="l" x="2030" y="1015" textLength="651">The belief that there should be a defined way in which decisions should be made, which people should stick to</text></g>
<g id="n161"><path class="k" d="M1880.3 1048.3H2617"/><text class="b" x="1887" y="1041.7" textLength="119">Anti-constitutional</text><use href="#c" x="2018.6" y="1036.7"/><text class="l" x="2038.9" y="1041" textLength="573.1">Any group or individual that does not seek change through channels specified in the constitution</text></g>
<g id="n162"><path class="k" d="M1880.3 1074.6H2486.7"/><text class="b" x="1886" y="1067.6" textLength="105.5">Unconstitutional</text><use href="#c" x="2003" y="1062.6"/><text class="l" x="2024" y="1067" textLength="456.9">Any action by the government or an individual which violates the constitution</text></g>
<g id="n163"><path class="k" d="M1880.3 1100.5H2363.8"/><text class="b" x="1886" y="1094" textLength="105.5">The Constitution</text><use href="#c" x="2003" y="1089"/><text class="l" x="2023.4" y="1093" textLength="334.6">Rules about how decisions are made in a political system</text></g>
<g id="n164"><rect class="bx k" x="1729" y="1103.7" width="116.5" height="23.6"/><text class="m" x="1733" y="1121" textLength="106.6">Judical Review</text><use href="#c" x="1852" y="1115.7"/></g>
<g id="n165"><path class="k" d="M1866.7 1127.3H2571.8"/><text class="l" x="1872.5" y="1119.8" textLength="693.5">The process by which the judiciary can judge the actions of the executive and legislature according to the constitution</text></g>

<g id="n166"><rect class="bx u" x="1754.5" y="1321.5" width="172.2" height="25.9"/><text class="h" x="1758.4" y="1340.5" textLength="162.5">Features &amp; Functions</text><use href="#c" x="1934.4" y="1335"/></g>
<g id="n167"><rect class="bx u" x="1959.6" y="1234.5" width="70.4" height="24.1"/><text class="m" x="1963.4" y="1252.5" textLength="60.6">Features</text><use href="#c" x="2038" y="1246.5"/></g>
<g id="n168"><path class="u" d="M2051.4 1193.4H2278.7"/><text class="l" x="2056.3" y="1186" textLength="216.6">Determines how power is distributed</text></g>
<g id="n169"><path class="u" d="M2051.4 1219.3H2314.5"/><text class="l" x="2056" y="1211.8" textLength="252.7">Establishes political processes and systems</text></g>
<g id="n170"><path class="u" d="M2051.4 1245.6H2212"/><text class="l" x="2056" y="1237.7" textLength="151">Limits government power</text></g>
<g id="n171"><path class="u" d="M2051.4 1271.5H2511.8"/><text class="l" x="2056" y="1264" textLength="450">Liberal constitutions should be codified to make people aware of their rights</text></g>
<g id="n172"><path class="u" d="M2051.4 1297.4H2162.7"/><text class="l" x="2056" y="1291" textLength="100.9">Can be amended</text></g>
<g id="n173"><path class="u" d="M2051.4 1323.3H2380.3"/><text class="l" x="2058" y="1315.8" textLength="315.5">Establishes how power operates over a territorial area</text></g>
<g id="n174"><rect class="bx u" x="1959.6" y="1410" width="79.3" height="25"/><text class="m" x="1963.4" y="1428.8" textLength="69.6">Functions</text><use href="#c" x="2045.6" y="1422.5"/></g>
<g id="n175"><path class="u" d="M2060 1369.3H2432.5"/><text class="l" x="2065" y="1361.8" textLength="361.7">Establishes the rule and principles that make the system work</text></g>
<g id="n176"><path class="u" d="M2060 1395.6H2285.5"/><text class="l" x="2065" y="1387.7" textLength="214.7">Establishes the distribution of power</text></g>
<g id="n177"><path class="u" d="M2060 1421.5H2302.9"/><text class="l" x="2065" y="1413.6" textLength="232">States limitations of government power</text></g>
<g id="n178"><path class="u" d="M2060 1447.4H2302"/><text class="l" x="2065" y="1441" textLength="231">Contains rules for its own amendments</text></g>
<g id="n179"><path class="u" d="M2060 1473.3H2317.4"/><text class="l" x="2065" y="1465.8" textLength="246.6">Outlines the rights &amp; freedoms of citizens</text></g>
<g id="n180"><path class="u" d="M2060 1499.6H2315.5"/><text class="l" x="2064" y="1491.7" textLength="245.7">Protects the rights &amp; freedoms of citizens</text></g>

<g id="n181"><rect class="bx u" x="1754.5" y="1635" width="107.5" height="26.6"/><text class="h" x="1758" y="1653.5" textLength="98">Sovereignity</text><use href="#c" x="1868.7" y="1649"/></g>
<g id="n182"><path class="u" d="M1883 1562.5H2009"/><text class="m" x="1888" y="1554.5" textLength="101.6">Parliamentary</text><use href="#c" x="2002" y="1549.5"/></g>
<g id="n183"><path class="u" d="M2017.6 1535.3H2397.7"/><text class="l" x="2023.4" y="1527.8" textLength="368.5">The idea that Parliament is the sole law making body in the UK</text></g>
<g id="n184"><path class="u" d="M2017.6 1561.6H2298"/><text class="l" x="2023.4" y="1553.7" textLength="269.6">They say this because people elect Parliament</text></g>
<g id="n185"><path class="u" d="M2017.6 1587.5H2346.4"/><text class="l" x="2021.5" y="1580" textLength="320.1">Parliament can make or un-make any law that it wants</text></g>
<g id="n186"><path class="u" d="M1883 1615.6H1932.5"/><text class="m red" x="1888" y="1607" textLength="38.7">Legal</text></g>
<g id="n187"><path class="u" d="M1883 1651.3H1965.4"/><text class="m" x="1888" y="1644.8" textLength="57">Political</text><use href="#c" x="1957.6" y="1639.5"/></g>
<g id="n188"><path class="u" d="M1972 1659.4H2540.8"/><text class="l" x="1977" y="1634" textLength="558">The idea that wherever legal sovereignty lies, political sovereignty us where the real power lies.</text><text class="l" x="1977" y="1651.9" textLength="453.6">Thereore the UK government and the prime minister are politically sovereign</text></g>
<g id="n189"><path class="u" d="M1883 1687.5H1955.7"/><text class="m red" x="1888" y="1680.6" textLength="62">National</text></g>
<g id="n190"><path class="u" d="M1883 1736.6H1965.4"/><text class="m" x="1888" y="1727.5" textLength="56">Popular</text><use href="#c" x="1957.6" y="1723.5"/></g>
<g id="n191"><path class="u" d="M1972 1731.3H2627"/><text class="l" x="1977" y="1705.9" textLength="639">This suggests that the people have some Sovereignty. In legal terms it is not true, but people say it because::</text><text class="l" x="1977" y="1723.8" textLength="644">People elect Parliament. parliament is mandated to carry out its manifesto. Referendums are held more often.</text></g>
<g id="n192"><path class="u" d="M1972 1757.6H2106.6"/><text class="l" x="1977" y="1750" textLength="123.8">Bottom-up approach</text></g>
<g id="n193"><path class="u" d="M1883 1785.3H1962.5"/><text class="m red" x="1888" y="1779" textLength="69.6">Economic</text></g>

<g id="n194"><rect class="bx u" x="1754.5" y="2080.4" width="177" height="25.9"/><text class="h" x="1759" y="2098.5" textLength="166.5">Types of Constitution</text><use href="#c" x="1937.3" y="2093"/></g>
<g id="n195"><rect class="bx u" x="1952.8" y="1885.2" width="172.2" height="24"/><text class="m" x="1957.6" y="1903.5" textLength="161.4">Codified &amp; Uncodified</text><use href="#c" x="2131.7" y="1898.3"/></g>
<g id="n196"><rect class="bx u" x="1952.8" y="2094.4" width="138.2" height="24"/><text class="m" x="1957.6" y="2110.5" textLength="127.4">Unitary &amp; Federal</text><use href="#c" x="2097.9" y="2106"/></g>
<g id="n197"><rect class="bx u" x="1952.8" y="2290.5" width="169.2" height="24"/><text class="m" x="1957.6" y="2308.2" textLength="158.4">Entrenched &amp; Flexible</text><use href="#c" x="2128.8" y="2303"/></g>
<g id="n198"><path class="u" d="M2155.9 1860.4H2264.2"/><text class="b" x="2161.7" y="1853.2" textLength="83.2">Codified (US)</text><use href="#c" x="2258.4" y="1848.2"/></g>
<g id="n199"><path class="u" d="M2272 1821.2H2689.7"/><text class="l" x="2277.8" y="1814" textLength="406.1">An organised constitution that is stored or written down in one place</text></g>
<g id="n200"><path class="u" d="M2272 1847.3H2463.4"/><text class="l" x="2277.8" y="1839.7" textLength="179.8">Easily accessible by the people</text></g>
<g id="n201"><path class="u" d="M2272 1873H2632.7"/><text class="l" x="2277.8" y="1865.8" textLength="349.1">Contains the main principles of how society should operate</text></g>
<g id="n202"><path class="u" d="M2272 1899.5H2469.2"/><text class="l" x="2277.8" y="1891.9" textLength="186.6">May also contain a Bill of Rights</text></g>
<g id="n203"><path class="u" d="M2155.9 1971.5H2279.7"/><text class="b" x="2161.7" y="1964.3" textLength="99.6">Uncodified (UK)</text><use href="#c" x="2273.9" y="1959.3"/></g>
<g id="n204"><path class="u" d="M2287.4 1945.4H2537"/><text class="l" x="2293.2" y="1937.8" textLength="237.8">Partly written or not written in one place</text></g>
<g id="n205"><path class="u" d="M2287.4 1971.5H2449.9"/><text class="l" x="2293.2" y="1965.6" textLength="150.8">Less accessible to citizens</text></g>
<g id="n206"><path class="u" d="M2287.4 1997.6H2513.7"/><text class="l" x="2293.2" y="1990" textLength="214.7">May be considered as not legitimate</text></g>
<g id="n207"><path class="u" d="M2122 2069.6H2224.5"/><text class="b" x="2126.9" y="2061.9" textLength="78.3">Unitary (UK)</text><use href="#c" x="2217.8" y="2057"/></g>
<g id="n208"><path class="u" d="M2232.3 2043.5H2448"/><text class="l" x="2237" y="2035.8" textLength="206">Sovereignty resides in one location</text></g>
<g id="n209"><path class="u" d="M2232.3 2069.6H2717.8"/><text class="l" x="2238" y="2061.9" textLength="473">A central sovereign power can overrule all other bodies &amp; restore power to itself</text></g>
<g id="n210"><path class="u" d="M2232.3 2095.2H2457.6"/><text class="l" x="2237" y="2087.6" textLength="213.9">Can give power but also take it back</text></g>
<g id="n211"><path class="u" d="M2122 2167.2H2222.6"/><text class="b" x="2126.9" y="2160" textLength="76.1">Federal (US)</text><use href="#c" x="2215.9" y="2155"/></g>
<g id="n212"><path class="u" d="M2230.4 2141.5H2509.8"/><text class="l" x="2235" y="2133.9" textLength="269">Sovereignty is shared with smaller institutions</text></g>
<g id="n213"><path class="u" d="M2230.4 2167.2H2464.4"/><text class="l" x="2235" y="2160" textLength="223.6">E.g. The US delegates power to States</text></g>
<g id="n214"><path class="u" d="M2230.4 2193.3H2678"/><text class="l" x="2235" y="2186" textLength="437.3">Central (federal) authority makes decisions on foreign policy, economy etc</text></g>
<g id="n215"><path class="u" d="M2153 2265.3H2277.7"/><text class="b" x="2157.8" y="2258" textLength="101.6">Entrenched (US)</text><use href="#c" x="2272" y="2253"/></g>
<g id="n216"><path class="u" d="M2286.5 2239.2H2404.4"/><text class="l" x="2291.3" y="2232" textLength="108.3">Difficult to change</text></g>
<g id="n217"><path class="u" d="M2286.5 2265.3H2564"/><text class="l" x="2291.3" y="2258" textLength="267.7">GOOD because... secures the rights of people</text></g>
<g id="n218"><path class="u" d="M2286.5 2291.4H2703.3"/><text class="l" x="2291.3" y="2284" textLength="407.2">BAD because... some urgent changes may take a long time to change</text></g>
<g id="n219"><path class="u" d="M2153 2363.3H2256.5"/><text class="b" x="2157.8" y="2356" textLength="80.2">Flexible (UK)</text><use href="#c" x="2250.7" y="2351"/></g>
<g id="n220"><path class="u" d="M2265 2337.2H2364.8"/><text class="l" x="2270" y="2330" textLength="89">Easy to change</text></g>
<g id="n221"><path class="u" d="M2265 2363.3H2790.3"/><text class="l" x="2270" y="2356" textLength="514.5">GOOD because... keeps up with changes in society &amp; can react to emergency situations</text></g>
<g id="n222"><path class="u" d="M2265 2389.4H2686.8"/><text class="l" x="2270" y="2381.8" textLength="411">BAD because... could just as easily &amp; quickly take away people's rights</text></g>
</svg>
